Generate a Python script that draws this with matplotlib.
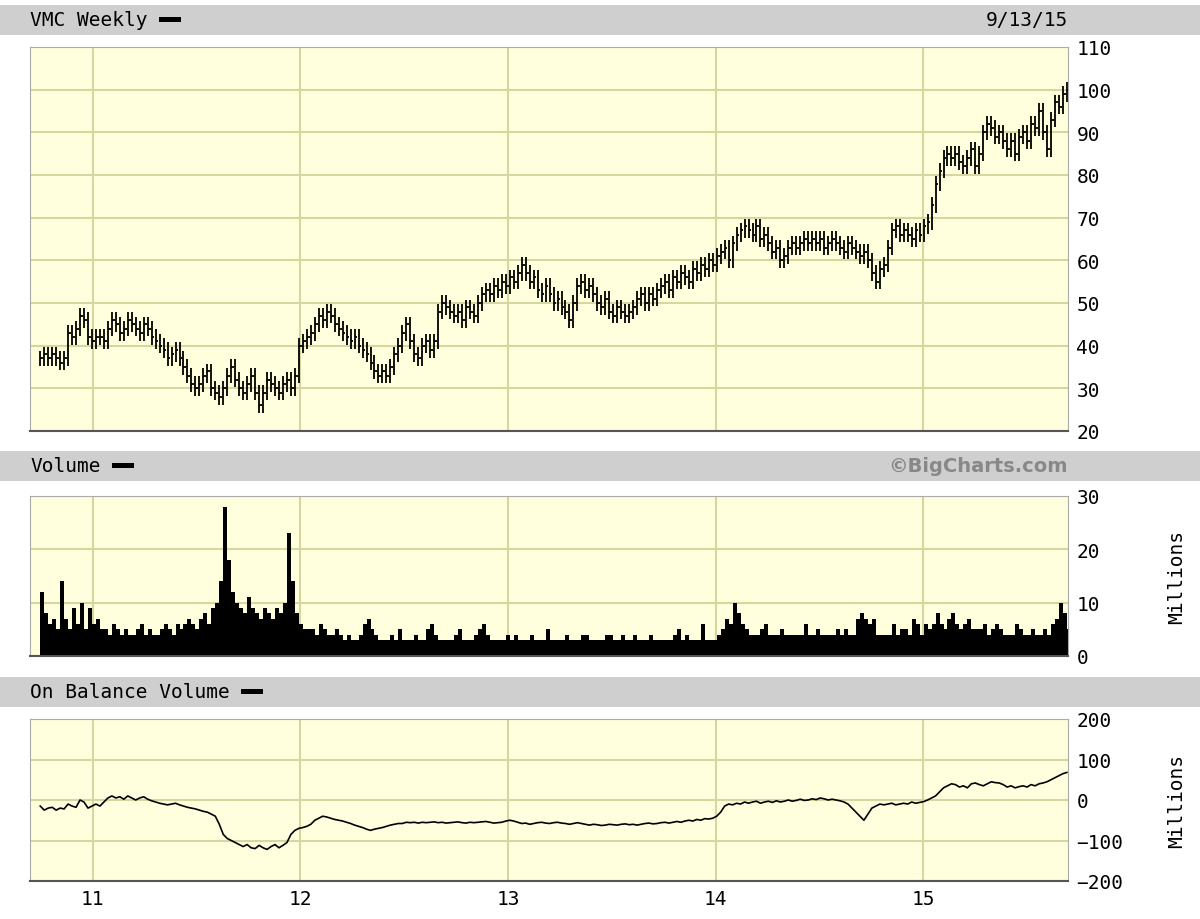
import matplotlib
matplotlib.use("Agg")
import matplotlib.pyplot as plt
import numpy as np
import pandas as pd
from matplotlib.patches import Rectangle

close = [37,38,37,38,37,36,37,43,42,44,47,46,42,41,42,
 42,41,44,46,45,43,44,46,45,44,43,45, 44,42,41,40,39,37,38,39,37,35,33,31,
 30,31,33,34,30,29,28,30,33,35,32,30, 29,31,33,29,26,29,32,31,30,29,31,32, 30,33,40,41,
 42,43,45,47,46,48,47,45,44,43,42,41, 42,40,39,38,36,34,33,34,33,35,38,40,
 43,45,41,38,37,40,41,39,41,48,50,49, 48,47,48,46,49,48,47,50,52,53,52,54, 53,55,54,56,
 55,57,59,57,55,56,53,52,54,52,50,51, 49,48,46,50,54,55,53,54,52,50,49,51,
 48,47,49,48,47,48,49,51,52,50,52,51, 53,54,55,53,56,55,57,56,55,58,57,59, 58,60,59,61,
 62,63,60,64,66,67,68,67,66,68,65,66, 64,62,63,60,61,63,64,63,64,65,64,65,
 64,65,63,64,65,64,63,62,64,63,62,61, 62,60,57,55,58,59,63,67,68,66,67,66, 65,67,66,68,
 69,73,78,81,84,85,84,85,83,82,84,86, 82,85,90,92,91,89,90,88,86,88,85,89,
 90,88,92,91,95,90,86,93,97,96,99,100]

volume = [12,8,6,7,5,14,7,5,9,6,10,5,9,6,7,
 5,5,4,6,5,4,5,4,4,5,6,4,5,4,4,5,6,5,4,6,5,6,7,6,5,7,8,6,9,10,14,28,18,12,10,9,8,11,9,8,7,9,8,7,9,8,10,23,14,8,6,5,
 5,5,4,6,5,4,4,5,4,3,4,3,3,4,6,7,5,4,3,3,3,4,3,5,3,3,3,4,3,3,5,6,4,3,3,3,3,4,5,3,3,3,4,5,6,4,3,3,3,3,4,3,
 4,3,3,3,4,3,3,3,5,3,3,3,3,4,3,3,3,4,4,3,3,3,3,4,4,3,3,4,3,3,4,3,3,3,4,3,3,3,3,3,4,5,3,4,3,3,3,6,3,3,3,4,
 5,7,6,10,8,6,5,4,4,4,5,6,4,4,4,5,4,4,4,4,4,6,4,4,5,4,4,4,4,5,4,5,4,4,7,8,7,6,7,4,4,4,4,6,4,5,5,4,7,6,4,6,
 5,6,8,6,5,7,8,6,5,6,7,5,5,5,6,4,5,6,5,4,4,4,6,5,4,4,5,4,4,5,4,6,7,10,8,5]

obv = [-15,-25,-20,-18,-25,-20,-22,-10,-15,-18,0,-5,-20,-15,-10,
 -15,-5,5,10,5,8,2,10,5,0,5,8,2,-2,-5,-8,-10,-12,-10,-8,-12,-15,-18,-20,-22,-25,-28,-30,-35,-40,
 -60,-85,-95,-100,-105,-110,-115,-110,-118,-120,-112,-118,-122,-115,-110,-118,-112,-105,-85,-75,-70,-68,
 -65,-60,-50,-45,-40,-42,-45,-48,-50,-52,-55,-58,-62,-65,-68,-72,-75,-72,-70,-68,-65,-62,-60,-58,-58,-55,-56,-55,-57,-55,-56,-55,-54,-56,-55,-57,-56,-55,-54,-56,-57,-55,-56,-55,-54,-53,-55,-57,-56,-55,-52,-50,
 -52,-55,-58,-57,-60,-58,-56,-55,-57,-58,-56,-55,-57,-58,-60,-58,-56,-58,-60,-62,-60,-61,-63,-62,-60,-61,-62,-60,-59,-61,-60,-62,-60,-58,-57,-59,-58,-56,-55,-57,-55,-53,-55,-52,-50,-52,-48,-50,-46,-47,-45,-40,
 -30,-15,-10,-12,-8,-10,-5,-8,-5,-3,-8,-5,-3,-6,-2,-5,-3,0,-3,-1,2,-1,0,3,1,5,3,0,2,0,-2,-5,-10,-20,-30,-40,-50,-35,-20,-15,-10,-12,-10,-8,-12,-10,-8,-10,-5,-8,-6,-4,
 0,5,10,20,30,35,40,38,32,35,30,40,42,38,35,40,45,43,42,38,32,35,30,33,35,32,38,35,40,42,45,50,55,60,65,68]

year_labels = ["11", "12", "13", "14", "15"]
end_date = pd.Timestamp("2015-09-11")

def weeks(n):
    return pd.date_range(end=end_date, periods=n, freq="7D")

W, H = 1200, 920
fig = plt.figure(figsize=(12, 9.2), dpi=100)
fig.patch.set_facecolor("white")
mono = "DejaVu Sans Mono"
FS = 14
BG = "#ffffdd"
GRID = "#d6d6a0"
BAR = "#cfcfcf"

def fx(x): return x / W
def fy(y): return 1 - y / H

def header(y0, y1, text, right=None):
    fig.patches.append(Rectangle((0, fy(y1)), 1, (y1 - y0) / H, transform=fig.transFigure,
                                 facecolor=BAR, edgecolor="none", zorder=0))
    fig.text(fx(30), fy((y0 + y1) / 2), text, family=mono, fontsize=FS, va="center", ha="left")
    cw = 0.602 * FS * 100 / 72
    fig.patches.append(Rectangle((fx(30 + len(text) * cw + 12), fy((y0 + y1) / 2) - 0.002), 22 / W, 5 / H,
                                 transform=fig.transFigure, facecolor="black", edgecolor="none"))
    if right:
        fig.text(fx(1068), fy((y0 + y1) / 2), right, family=mono, fontsize=FS, va="center", ha="right")

header(6, 36, "VMC Weekly", "9/13/15")
header(452, 482, "Volume")
fig.text(fx(1068), fy(467), "©BigCharts.com", fontsize=14, fontweight="bold", color="#888888",
         va="center", ha="right")
header(678, 708, "On Balance Volume")

x0, x1 = 30, 1068
xmin = pd.Timestamp("2010-09-13"); xmax = pd.Timestamp("2015-09-13")
years = [pd.Timestamp(f"20{y}-01-01") for y in year_labels]

def mkax(ytop, ybot):
    ax = fig.add_axes([fx(x0), fy(ybot), fx(x1 - x0), (ybot - ytop) / H])
    ax.set_facecolor(BG)
    ax.set_xlim(xmin, xmax)
    ax.set_xticks(years)
    ax.grid(True, color=GRID, lw=1.5)
    ax.set_axisbelow(True)
    for s in ax.spines.values():
        s.set_color("#aaaaaa")
    ax.spines["bottom"].set_color("#555555"); ax.spines["bottom"].set_linewidth(1.5)
    ax.yaxis.tick_right()
    ax.tick_params(axis="y", length=0, labelsize=FS, pad=6)
    ax.tick_params(axis="x", length=0, labelbottom=False)
    return ax

def monoticks(ax):
    for l in ax.get_yticklabels() + ax.get_xticklabels():
        l.set_family(mono)

# price
ax1 = mkax(48, 432)
d = weeks(len(close))
c = np.array(close, float)
o = np.r_[c[0], c[:-1]]
hi = np.maximum(o, c) + 1.8
lo = np.minimum(o, c) - 1.8
ax1.vlines(d, lo, hi, color="black", lw=1.3)
ax1.hlines(c, d, d + pd.Timedelta(days=5), color="black", lw=1.3)
ax1.set_ylim(20, 110)
ax1.set_yticks(range(20, 111, 10))
monoticks(ax1)

# volume
ax2 = mkax(497, 657)
dv = weeks(len(volume))
ax2.bar(dv, volume, width=7, color="black", align="edge")
ax2.set_ylim(0, 30)
ax2.set_yticks([0, 10, 20, 30])
monoticks(ax2)
fig.text(fx(1177), fy(577), "Millions", family=mono, fontsize=FS, rotation=90, va="center", ha="center")

# OBV
ax3 = mkax(720, 882)
do = weeks(len(obv))
ax3.plot(do, obv, color="black", lw=1.2)
ax3.set_ylim(-200, 200)
ax3.set_yticks([-200, -100, 0, 100, 200])
fig.text(fx(1177), fy(801), "Millions", family=mono, fontsize=FS, rotation=90, va="center", ha="center")
ax3.tick_params(axis="x", labelbottom=True, labelsize=FS, pad=6)
ax3.set_xticklabels(year_labels)
monoticks(ax3)

fig.savefig("out.png", dpi=100, facecolor=fig.get_facecolor())
